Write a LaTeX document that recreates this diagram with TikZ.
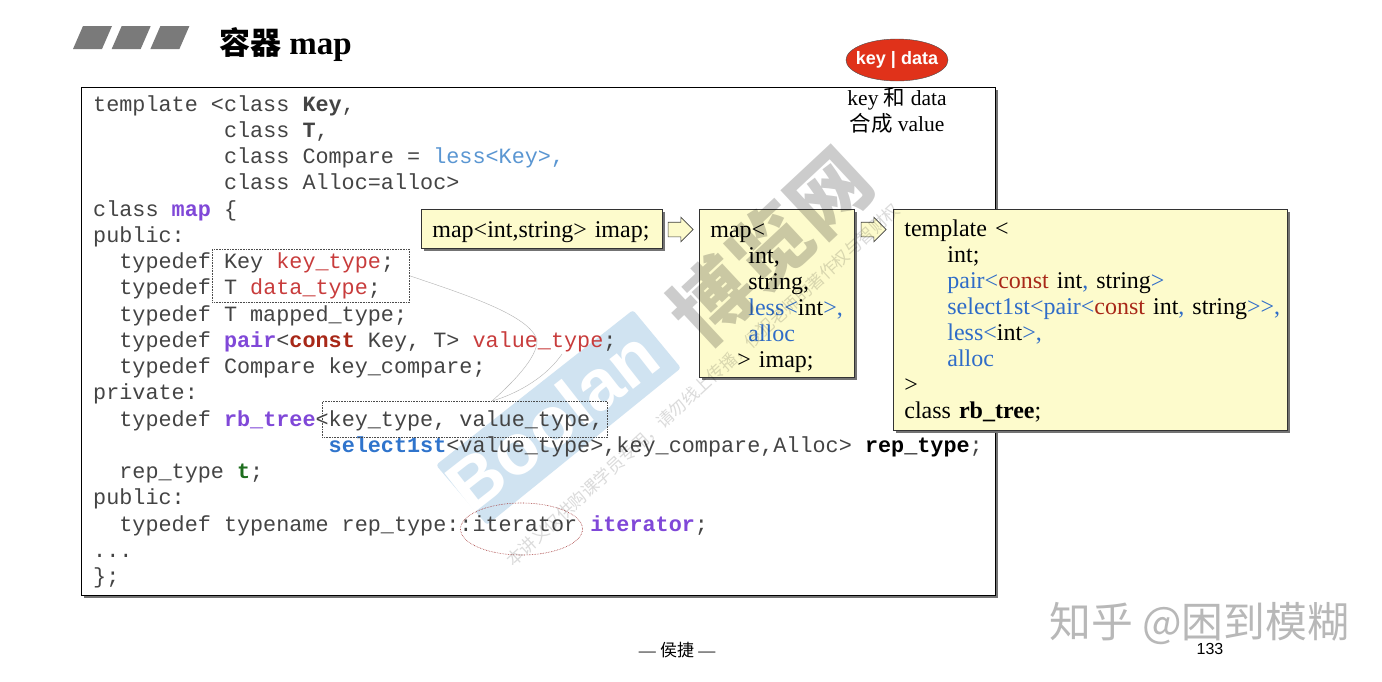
\documentclass[tikz,border=0pt]{standalone}
\usepackage{fontspec}
\setmainfont{Liberation Serif}
\setsansfont{Liberation Sans}
\setmonofont{Liberation Mono}
\newfontfamily\cjk{Noto Sans CJK SC}
\usetikzlibrary{shapes.geometric,shapes.arrows,shadows}
\definecolor{codegray}{HTML}{444444}
\definecolor{kwpurple}{HTML}{8048D8}
\definecolor{typered}{HTML}{C83C3C}
\definecolor{constred}{HTML}{A82818}
\definecolor{lessblue}{HTML}{5A96D2}
\definecolor{selblue}{HTML}{2F74CC}
\definecolor{boxblue}{HTML}{2F6CC8}
\definecolor{vargreen}{HTML}{1E6E1E}
\definecolor{noteyellow}{HTML}{FDFBCC}
\definecolor{logoblue}{HTML}{D0E3F1}
\definecolor{ovalred}{HTML}{E0321A}
\newcommand{\kw}[1]{\textcolor{kwpurple}{\textbf{#1}}}
\newcommand{\tp}[1]{\textcolor{typered}{#1}}
\newcommand{\bl}[1]{\textcolor{boxblue}{#1}}
\newcommand{\cn}[1]{\textcolor{constred}{#1}}
\newcommand{\lift}[1]{\rule{0pt}{#1pt}}
\tikzset{
	plainshadow/.style={drop shadow={shadow xshift=2.5pt,shadow yshift=-2.5pt,fill=black!55,opacity=1}},
	notebox/.style={draw=black!80,fill=noteyellow,thick,anchor=north west,align=left,inner xsep=0pt,inner ysep=0pt,
		font=\fontsize{24}{26}\selectfont,plainshadow},
	openarrow/.style={draw=black!75,fill=noteyellow,semithick,shape=single arrow,minimum width=24pt,minimum height=25pt,
		single arrow head extend=5pt,single arrow tip angle=90,inner sep=0pt,text height=14pt,text depth=0pt},
	dotbox/.style={draw=black!70,densely dotted,semithick,inner sep=0pt,anchor=north west},
	thincurve/.style={draw=black!30,thin}
}
\begin{document}
\begin{tikzpicture}[x=1pt,y=-1pt]
	\useasboundingbox[fill=white] (0,0) rectangle (1382,681);
	%% title
	\foreach \i in {0,1,2} {
		\fill[black!52] (83+38.7*\i,26) -- (112+38.7*\i,26) -- (102+38.7*\i,49) -- (73+38.7*\i,49) -- cycle;
	}
	\node[anchor=base west,inner sep=0pt,font=\fontsize{33}{33}\selectfont\bfseries] (title) at (219,54) {{\cjk\fontsize{31}{31}\selectfont 容器} map};
	%% code frame
	\node[draw=black,thick,fill=white,anchor=north west,minimum width=914pt,minimum height=508pt,inner sep=0pt,plainshadow] (frame) at (81,87) {};
	%% logo
	\fill[logoblue,rounded corners=3pt] (633,310) -- (681,368) -- (487,525) -- (436,465) -- cycle;
	\node[white,rotate=38,font=\fontsize{72}{72}\selectfont\sffamily\bfseries,inner sep=0pt] (logo) at (552,420) {Boolan};
	%% code
	\node[anchor=north west,align=left,inner sep=0pt,text=codegray,font=\fontsize{21.8}{26.25}\selectfont\ttfamily] (code) at (93,95) {%
		template <class \textbf{Key},\\
		~~~~~~~~~~class \textbf{T},\\
		~~~~~~~~~~class Compare = \textcolor{lessblue}{less<Key>,}\\
		~~~~~~~~~~class Alloc=alloc>\\
		class \kw{map} \{\\
		public:\\
		~~typedef Key \tp{key\_type};\\
		~~typedef T \tp{data\_type};\\
		~~typedef T mapped\_type;\\
		~~typedef \kw{pair}<\textcolor{constred}{\textbf{const}} Key, T> \tp{value\_type};\\
		~~typedef Compare key\_compare;\\
		private:\\
		~~typedef \kw{rb\_tree}<key\_type, value\_type,\\
		~~~~~~~~~~~~~~~~~~\textcolor{selblue}{\textbf{select1st}}<value\_type>,key\_compare,Alloc> \textcolor{black}{\textbf{rep\_type}};\\
		~~rep\_type \textcolor{vargreen}{\textbf{t}};\\
		public:\\
		~~typedef typename rep\_type::iterator \kw{iterator};\\
		...\\
		\};};
	%% marks in the code
	\node[dotbox,minimum width=197pt,minimum height=53pt] (keybox) at (212,249) {};
	\node[dotbox,minimum width=285pt,minimum height=36pt] (treebox) at (322,401) {};
	\node[draw=typered!80!black,densely dotted,semithick,shape=ellipse,minimum width=122pt,minimum height=52pt,inner sep=0pt] (iterring) at (521.5,529) {};
	\coordinate (treetip) at (492,401);
	\coordinate (valuetip) at (562,354);
	\draw[thincurve] (keybox.east) .. controls (470,296) and (530,316) .. (537,340) .. controls (538,358) and (510,385) .. (treetip);
	\draw[thincurve] (treetip) .. controls (520,393) and (548,375) .. (valuetip);
	%% oval
	\node[draw=black!70,fill=ovalred,shape=ellipse,minimum width=102pt,minimum height=42pt,inner sep=0pt] (oval) at (897,60) {};
	\node[inner sep=0pt,text=white,font=\fontsize{18}{18}\selectfont\sffamily\bfseries] (ovaltext) at (oval) {key | data};
	\node[anchor=north,align=center,inner sep=0pt,font=\fontsize{21.5}{26.5}\selectfont] (ovalnote) at (897,87) {key {\cjk 和} data\\{\cjk 合成} value};
	%% notes
	\node[notebox,minimum width=241pt,minimum height=39pt,text width=219pt,inner xsep=11pt] (imapbox) at (421,209) {\lift{22}map<int,string> imap;};
	\node[notebox,minimum width=155pt,minimum height=168pt,text width=133pt,inner xsep=11pt] (mapbox) at (699,209) {%
		\lift{23}map<\\
		\hspace*{38pt}int,\\
		\hspace*{38pt}string,\\
		\hspace*{38pt}\bl{less<}int\bl{>,}\\
		\hspace*{38pt}\bl{alloc}\\
		\hspace*{27pt}> imap;};
	\node[notebox,minimum width=394pt,minimum height=221pt,text width=372pt,inner xsep=11pt] (treenote) at (893,209) {%
		\lift{18.5}template <\\
		\hspace*{43pt}int;\\
		\hspace*{43pt}\bl{pair<}\cn{const} int\bl{,} string\bl{>}\\
		\mbox{\hspace*{43pt}\bl{select1st<pair<}\cn{const} int\bl{,} string\bl{>{}>,}}\\
		\hspace*{43pt}\bl{less<}int\bl{>,}\\
		\hspace*{43pt}\bl{alloc}\\
		>\\
		class \textbf{rb\_tree};};
	\node[openarrow] (arrowa) at (677,229.5) {};
	\node[openarrow] (arrowb) at (870,229.5) {};
	%% watermarks
	\begin{scope}[blend mode=multiply]
		\node[text=black!20,rotate=43,inner sep=0pt,font=\fontsize{80}{80}\selectfont\cjk\bfseries] (markcn) at (770,246) {博览网};
		\node[text=black!14,rotate=42.5,inner sep=0pt,font=\fontsize{17}{17}\selectfont\cjk] (markline) at (703,385) {本讲义仅供购课学员专用，请勿线上传播，侵犯老师的著作权与智财权};
	\end{scope}
	\node[text=black!28,inner sep=0pt,anchor=west,font=\fontsize{41.8}{41.8}\selectfont\cjk] (zhihu) at (1049,624) {知乎 @困到模糊};
	%% footer
	\node[inner sep=0pt,font=\fontsize{17}{17}\selectfont] (author) at (677,650) {— {\cjk 侯捷} —};
	\node[inner sep=0pt,font=\fontsize{16}{16}\selectfont\sffamily] (pageno) at (1210,649) {133};
\end{tikzpicture}
\end{document}
